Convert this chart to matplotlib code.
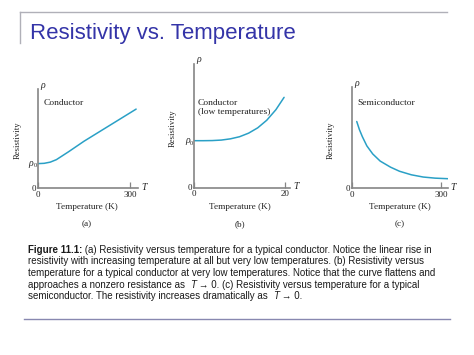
import matplotlib
matplotlib.use("Agg")
import matplotlib.pyplot as plt
from matplotlib.lines import Line2D

# ---------------- data ----------------
title = "Resistivity vs. Temperature"
panel_names = ["Conductor", "Conductor\n(low temperatures)", "Semiconductor"]
panel_tags = ["(a)", "(b)", "(c)"]
x_label = "Temperature (K)"
y_label = "Resistivity"

a_T = [0, 20, 40, 60, 80, 100, 150, 200, 250, 300, 320]
a_rho = [0.25, 0.253, 0.265, 0.29, 0.33, 0.37, 0.475, 0.57, 0.665, 0.76, 0.798]
a_rho0 = 0.25
a_tick = 300

b_T = [0, 2, 4, 6, 8, 10, 12, 14, 16, 18, 19.8]
b_rho = [0.379, 0.379, 0.380, 0.384, 0.394, 0.411, 0.440, 0.483, 0.545, 0.630, 0.730]
b_rho0 = 0.379
b_tick = 20

c_T = [16, 25, 35, 50, 70, 95, 130, 160, 200, 240, 280, 327]
c_rho = [0.66, 0.58, 0.51, 0.42, 0.34, 0.27, 0.21, 0.17, 0.135, 0.113, 0.102, 0.096]
c_tick = 300

# caption: list of lines, each a list of (text, style) pieces
caption_lines = [
    [("Figure 11.1:", "bold"), (" (a) Resistivity versus temperature for a typical conductor. Notice the linear rise in", "normal")],
    [("resistivity with increasing temperature at all but very low temperatures. (b) Resistivity versus", "normal")],
    [("temperature for a typical conductor at very low temperatures. Notice that the curve flattens and", "normal")],
    [("approaches a nonzero resistance as  ", "normal"), ("T", "italic"), (" → 0. (c) Resistivity versus temperature for a typical", "normal")],
    [("semiconductor. The resistivity increases dramatically as  ", "normal"), ("T", "italic"), (" → 0.", "normal")],
]

# ---------------- layout helpers ----------------
W, H = 474, 355
fig = plt.figure(figsize=(W / 100, H / 100), dpi=100)


def fx(x):
    return x / W


def fy(y):
    return 1 - y / H


SERIF = "Liberation Serif"
SANS = "Liberation Sans"
CURVE = "#2aa0c6"
AXC = "#858585"

# frame decorations
fig.add_artist(Line2D([fx(20), fx(447)], [fy(12), fy(12)], color="#b0b0b8", lw=1.0))
fig.add_artist(Line2D([fx(20), fx(20)], [fy(12), fy(43)], color="#b0b0b8", lw=1.0))
fig.add_artist(Line2D([fx(24), fx(450)], [fy(319), fy(319)], color="#8888b0", lw=1.0))

fig.text(fx(30), fy(39), title, fontsize=16, color="#3434a8", family=SANS,
         ha="left", va="baseline")

panels = [
    dict(px=(38, 138, 188.5, 89), T=a_T, rho=a_rho, rho0=a_rho0, tick=a_tick,
         xmax=300 * 100 / 92, name_xy=(44, 103), ylab_x=18, ylab_y=140, mid=87),
    dict(px=(194, 290, 187.5, 64), T=b_T, rho=b_rho, rho0=b_rho0, tick=b_tick,
         xmax=20 * 96 / 91, name_xy=(197.5, 103), ylab_x=173, ylab_y=128.5, mid=240),
    dict(px=(352, 447.5, 188.5, 87), T=c_T, rho=c_rho, rho0=None, tick=c_tick,
         xmax=300 * 95.5 / 89, name_xy=(357.5, 103), ylab_x=331, ylab_y=140, mid=400),
]

for i, p in enumerate(panels):
    x0, x1, yb, yt = p["px"]
    ax = fig.add_axes([fx(x0), fy(yb), fx(x1 - x0), (yb - yt) / H])
    ax.set_xlim(0, p["xmax"])
    ax.set_ylim(0, 1)
    ax.patch.set_alpha(0)
    for s in ("top", "right"):
        ax.spines[s].set_visible(False)
    for s in ("left", "bottom"):
        ax.spines[s].set_color(AXC)
        ax.spines[s].set_linewidth(1.2)
    ax.plot(p["T"], p["rho"], color=CURVE, lw=1.1, solid_capstyle="round")

    ax.set_xticks([0, p["tick"]])
    ax.set_xticklabels(["0", str(p["tick"])], fontfamily=SERIF, fontsize=6.5, color="#222222")
    ax.tick_params(axis="x", direction="in", length=4, width=0.9, color=AXC, pad=2)
    ax.set_yticks([0])
    ax.set_yticklabels(["0"], fontfamily=SERIF, fontsize=6.5, color="#222222")
    ax.tick_params(axis="y", length=0, pad=1.5)

    if p["rho0"] is not None:
        ax.text(-0.047 * p["xmax"], p["rho0"], "ρ", fontfamily=SERIF,
                style="italic", fontsize=7, ha="right", va="center", color="#222222")
        ax.text(-0.012 * p["xmax"], p["rho0"] - 0.02, "0", fontfamily=SERIF,
                fontsize=4.5, ha="right", va="center", color="#222222")

    fig.text(fx(x0 + 5), fy(yt - 4), "ρ", fontfamily=SERIF, style="italic",
             fontsize=7, ha="center", va="center", color="#222222")
    fig.text(fx(x1 + 6), fy(yb - 1), "T", fontfamily=SERIF, style="italic",
             fontsize=7, ha="center", va="center", color="#222222")

    nx, ny = p["name_xy"]
    fig.text(fx(nx), fy(ny - 4), panel_names[i],
             fontfamily=SERIF, fontsize=6.8, ha="left", va="top",
             color="#222222", linespacing=1.15)
    fig.text(fx(p["ylab_x"]), fy(p["ylab_y"]), y_label, fontfamily=SERIF,
             fontsize=6.2, rotation=90, ha="center", va="center", color="#222222")
    fig.text(fx(p["mid"]), fy(207), x_label, fontfamily=SERIF, fontsize=6.7,
             ha="center", va="center", color="#222222")
    fig.text(fx(p["mid"]), fy(224), panel_tags[i], fontfamily=SERIF, fontsize=6.7,
             ha="center", va="center", color="#222222")

# caption with rich text pieces placed by measuring
renderer = fig.canvas.get_renderer()
CAP_FS = 7.05
for k, pieces in enumerate(caption_lines):
    xpix = 28.0
    ybase = 253.0 + k * 11.5
    for txt, style in pieces:
        kw = dict(fontfamily=SANS, fontsize=CAP_FS, ha="left", va="baseline", color="#1a1a1a")
        if style == "bold":
            kw["fontweight"] = "bold"
        elif style == "italic":
            kw["style"] = "italic"
        t = fig.text(fx(xpix), fy(ybase), txt, **kw)
        bb = t.get_window_extent(renderer=renderer)
        xpix += bb.width

fig.savefig("out.png", dpi=100)
